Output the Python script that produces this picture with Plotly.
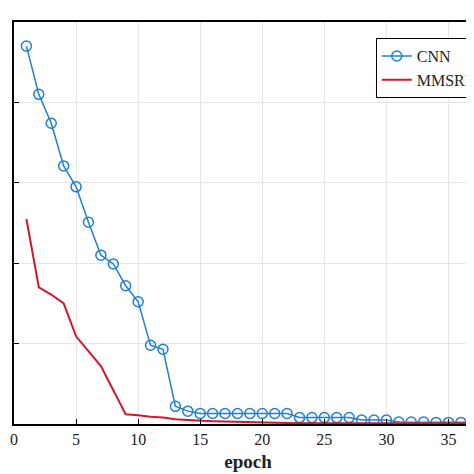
import plotly.graph_objects as go

epochs = list(range(1, 38))
cnn = [4.70, 4.10, 3.74, 3.21, 2.95, 2.51, 2.10, 1.99, 1.72, 1.52, 0.98, 0.93, 0.22,
       0.16, 0.13, 0.13, 0.13, 0.13, 0.13, 0.13, 0.13, 0.13, 0.08, 0.08, 0.08, 0.08,
       0.08, 0.05, 0.05, 0.05, 0.025, 0.025, 0.025, 0.02, 0.02, 0.02, 0.02]
mmsrn = [2.55, 1.70, 1.61, 1.50, 1.09, 0.90, 0.72, 0.42, 0.12, 0.11, 0.09, 0.08, 0.06,
         0.05, 0.04, 0.035, 0.03, 0.025, 0.02, 0.015, 0.015, 0.012, 0.01, 0.01, 0.01,
         0.01, 0.01, 0.01, 0.01, 0.01, 0.01, 0.01, 0.01, 0.01, 0.01, 0.01, 0.01]
xticks = [0, 5, 10, 15, 20, 25, 30, 35]

fig = go.Figure()
fig.add_trace(go.Scatter(x=epochs, y=cnn, name="CNN", mode="lines+markers",
                         line=dict(color="#1f7fd6", width=1.5),
                         marker=dict(symbol="circle-open", size=10, color="#1f7fd6", line=dict(width=1.5))))
fig.add_trace(go.Scatter(x=epochs, y=mmsrn, name="MMSRN", mode="lines",
                         line=dict(color="#d7142a", width=2)))
fig.update_layout(
    width=474, height=474, margin=dict(l=6, r=0, t=14, b=58, autoexpand=False),
    plot_bgcolor="white", paper_bgcolor="white",
    font=dict(family="Liberation Serif", color="#222", size=16),
    showlegend=True,
    legend=dict(x=0.773, y=0.96, xanchor="left", yanchor="top", bordercolor="black",
                borderwidth=1, bgcolor="white", font=dict(size=16), tracegroupgap=0),
    xaxis=dict(range=[0, 37.7], tickvals=xticks, showgrid=True, gridcolor="#e6e6e6",
               showline=True, linecolor="black", linewidth=1.5, mirror=True, ticks="inside",
               ticklen=5, tickcolor="black", zeroline=False, automargin=False,
               title=dict(text="<b>epoch</b>", font=dict(size=19), standoff=8)),
    yaxis=dict(range=[0, 5.0], tickvals=[0, 1, 2, 3, 4], showticklabels=False, showgrid=True,
               gridcolor="#e6e6e6", showline=True, linecolor="black", linewidth=1.5, mirror=True,
               ticks="inside", ticklen=5, tickcolor="black", zeroline=False, automargin=False),
)
fig.write_html("out.html")
